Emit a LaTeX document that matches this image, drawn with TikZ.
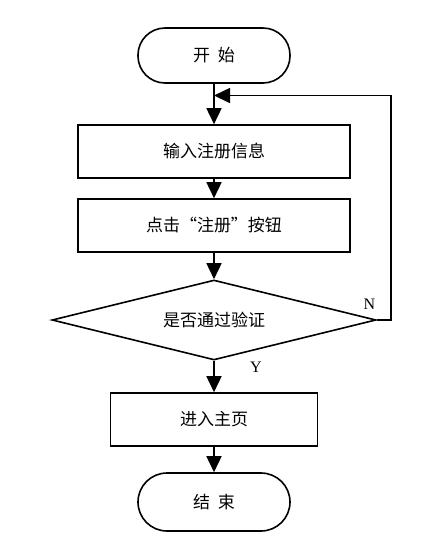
\documentclass[tikz,border=0pt]{standalone}
\usepackage{fontspec}
\newfontfamily\cjk{Noto Sans CJK SC}
\setmainfont{Liberation Serif}
\usetikzlibrary{arrows.meta,positioning,calc,shapes.geometric}
\tikzset{
	termbox/.style={draw, rounded corners=27pt, align=center, line width=1.6pt,
		minimum width=152pt, minimum height=55pt, inner sep=0pt, font=\cjk\fontsize{17}{19}\selectfont},
	stepbox/.style={draw, align=center, line width=1.6pt,
		minimum width=272pt, minimum height=53pt, inner sep=0pt, font=\cjk\fontsize{17}{19}\selectfont},
	decbox/.style={draw, diamond, aspect=4, align=center, line width=1.6pt,
		minimum width=324pt, minimum height=80pt, inner sep=0pt, font=\cjk\fontsize{17}{19}\selectfont},
	arrow/.style={-{Triangle[length=16pt,width=15pt]}, line width=1.6pt},
	tinylabel/.style={font=\fontsize{16}{18}\selectfont}
}
\begin{document}
\begin{tikzpicture}
	\useasboundingbox (0,0) rectangle (435pt,-547pt);
	
	%% -- main column
	\node[termbox] (start) at (214pt,-55.5pt) {开\hspace{0.45em}始};
	\node[stepbox, below=40.4pt of start] (reg) {输入注册信息};
	\node[stepbox, below=19.4pt of reg] (click) {点击“注册”按钮};
	\node[decbox, below=26.4pt of click] (check) {是否通过验证};
	\node[stepbox, minimum width=207pt, below=31.4pt of check] (home) {进入主页};
	\node[termbox, minimum height=58pt, rounded corners=29pt, below=25.4pt of home] (stop) {结\hspace{0.45em}束};
	
	%% -- forward edges
	\draw[arrow] (start.south) -- (reg.north);
	\draw[arrow] (reg.south) -- (click.north);
	\draw[arrow] (click.south) -- (check.north);
	\draw[arrow] (check.south) -- (home.north)
	node[pos=0.2, right=32pt, tinylabel] (yes) {Y};
	\draw[arrow] (home.south) -- (stop.north);
	
	%% -- back edge (not passed)
	\coordinate (join) at ($(start.south)!0.29!(reg.north)$);
	\draw[arrow] (check.east) -- ++(14pt,0) |- (join);
	\node[tinylabel, above left=7pt and -2pt of check.east] (no) {N};
	
\end{tikzpicture}
\end{document}
